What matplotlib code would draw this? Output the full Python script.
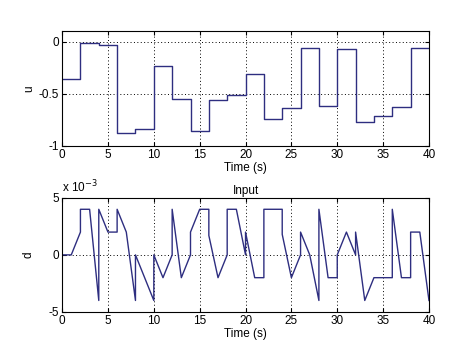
import numpy as np
import matplotlib
matplotlib.use("Agg")
import matplotlib.pyplot as plt

plt.rcParams['font.family'] = ['Liberation Sans', 'DejaVu Sans']

# control input u, held constant over 2 s intervals
u_times = [0, 2, 4, 6, 8, 10, 12, 14, 16, 18, 20, 22, 24, 26, 28, 30, 32, 34, 36, 38, 40]
u_vals = [-0.36, -0.01, -0.035, -0.88, -0.84, -0.235, -0.546, -0.86, -0.56, -0.51,
          -0.31, -0.746, -0.64, -0.057, -0.62, -0.073, -0.775, -0.71, -0.63, -0.057, -0.057]

# disturbance d (units of 1e-3)
d_times = [0, 1, 2, 2, 3, 4, 4, 5, 6, 6, 7, 8, 8, 10, 10, 11, 12, 12, 13, 14, 14, 15,
           16, 16, 17, 18, 18, 19, 20, 20, 21, 22, 22, 24, 24, 25, 26, 26, 27, 28, 28,
           29, 30, 30, 31, 32, 32, 33, 34, 36, 36, 37, 38, 38, 39, 40]
d_vals = [0, 0, 2, 4, 4, -4, 4, 2, 2, 4, 2, -4, 0, -4, 0, -2, 0, 4, -2, 0, 2, 4,
          4, 1.7, -2, 0, 4, 4, 0, 2, -2, -2, 4, 4, 1.8, -2, 0, 2, 0, -4, 4,
          -2, -2, 0, 2, 0, 2, -4, -2, -2, 4, -2, -2, 2, 2, -4]

LINE = '#2e2e80'
FS = 8.5

fig = plt.figure(figsize=(4.74, 3.54), dpi=100)
ax1 = fig.add_axes([0.131, 0.588, 0.774, 0.324])
ax2 = fig.add_axes([0.131, 0.119, 0.774, 0.322])

ax1.step(u_times, u_vals, where='post', color=LINE, linewidth=1.0)
ax1.set_xlim(0, 40)
ax1.set_ylim(-1, 0.1)
ax1.set_yticks([-1, -0.5, 0])
ax1.set_yticklabels(['-1', '-0.5', '0'])
ax1.set_ylabel('u', fontsize=FS, labelpad=3)
ax1.set_xlabel('Time (s)', fontsize=FS, labelpad=1)

ax2.plot(d_times, d_vals, color=LINE, linewidth=1.0)
ax2.set_xlim(0, 40)
ax2.set_ylim(-5, 5)
ax2.set_yticks([-5, 0, 5])
ax2.set_yticklabels(['-5', '0', '5'])
ax2.set_ylabel('d', fontsize=FS, labelpad=10)
ax2.set_xlabel('Time (s)', fontsize=FS, labelpad=1)
ax2.set_title('Input', fontsize=FS, pad=3)
ax2.text(0.0, 1.02, r'x 10$^{-3}$', transform=ax2.transAxes, fontsize=FS,
         ha='left', va='bottom')

for ax in (ax1, ax2):
    ax.set_xticks(np.arange(0, 41, 5))
    ax.grid(True, color='black', linestyle=(0, (1, 2.5)), linewidth=0.7)
    ax.tick_params(direction='in', top=True, right=True, length=3,
                   labelsize=FS, pad=2)
    for s in ax.spines.values():
        s.set_linewidth(0.8)

fig.savefig('out.png', dpi=100)
